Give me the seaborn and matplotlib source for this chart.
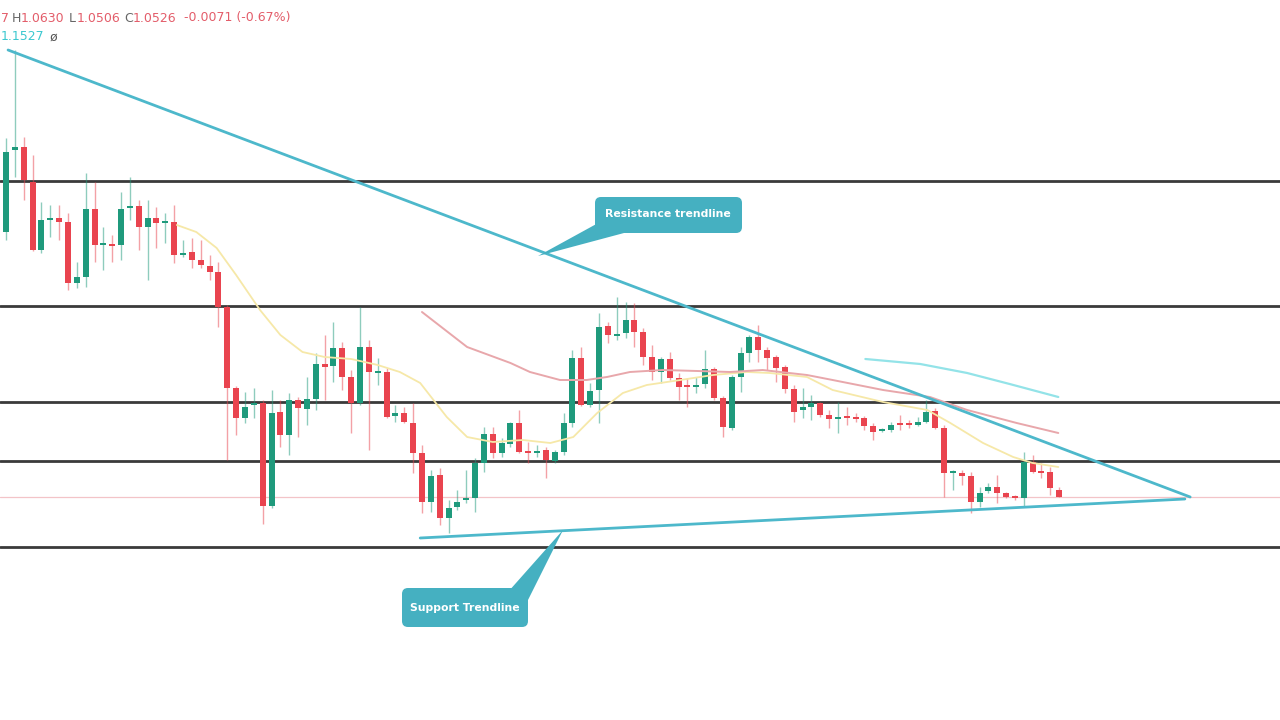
import numpy as np
import pandas as pd
import matplotlib
matplotlib.use('Agg')
import matplotlib.pyplot as plt
import seaborn as sns
from matplotlib.patches import FancyBboxPatch, Polygon

sns.set_style('white')
plt.rcParams['font.family'] = ['DejaVu Sans']

# candles (price in chart units, 120 bars)
opens = [488, 570, 573, 538, 470, 500, 502, 498, 437, 443,
         511, 475, 476, 475, 512, 514, 493, 502, 497, 498,
         465, 468, 460, 454, 448, 413, 332, 302, 315, 317,
         214, 308, 285, 320, 311, 321, 356, 354, 372, 343,
         317, 373, 347, 348, 304, 307, 297, 267, 218, 245,
         202, 213, 220, 222, 257, 286, 267, 276, 297, 268,
         267, 270, 259, 268, 297, 362, 315, 330, 394, 384,
         387, 400, 388, 363, 348, 361, 342, 334, 333, 336,
         351, 322, 292, 343, 367, 383, 370, 363, 353, 331,
         310, 313, 317, 305, 301, 303, 303, 302, 294, 289,
         290, 297, 296, 295, 298, 309, 292, 247, 247, 244,
         218, 229, 233, 227, 223, 222, 258, 248, 248, 230]
highs = [582, 670, 583, 565, 518, 515, 515, 507, 458, 547,
         538, 493, 485, 528, 543, 520, 520, 513, 507, 515,
         480, 482, 480, 465, 458, 415, 334, 328, 332, 320,
         330, 320, 327, 323, 343, 367, 385, 398, 378, 350,
         413, 380, 362, 352, 315, 313, 317, 275, 250, 252,
         220, 230, 250, 262, 293, 293, 282, 298, 310, 278,
         275, 273, 270, 307, 370, 373, 337, 407, 398, 423,
         418, 417, 392, 375, 363, 368, 347, 342, 343, 370,
         353, 324, 345, 373, 385, 395, 373, 365, 355, 335,
         332, 325, 318, 310, 318, 313, 307, 304, 297, 292,
         298, 305, 300, 303, 320, 312, 295, 250, 250, 248,
         233, 237, 245, 228, 225, 268, 265, 257, 253, 233]
lows = [480, 543, 520, 469, 467, 483, 480, 430, 432, 433,
        458, 450, 458, 460, 500, 470, 440, 472, 477, 457,
        463, 452, 452, 440, 393, 260, 285, 297, 302, 196,
        212, 273, 265, 283, 295, 310, 320, 338, 330, 287,
        315, 270, 335, 302, 298, 297, 247, 207, 208, 195,
        187, 210, 217, 208, 248, 262, 263, 273, 267, 257,
        263, 242, 257, 265, 293, 314, 313, 297, 377, 380,
        382, 373, 355, 340, 337, 340, 320, 313, 327, 332,
        320, 283, 290, 328, 358, 358, 350, 338, 327, 298,
        302, 300, 303, 292, 287, 295, 298, 290, 280, 288,
        288, 290, 292, 294, 297, 291, 223, 230, 235, 207,
        213, 227, 217, 222, 220, 213, 247, 242, 225, 223]
closes = [568, 573, 540, 470, 500, 502, 498, 437, 443, 511,
          475, 477, 474, 511, 514, 493, 502, 497, 499, 465,
          467, 460, 455, 448, 413, 332, 302, 313, 317, 214,
          307, 285, 320, 312, 321, 356, 353, 372, 343, 317,
          373, 348, 349, 303, 307, 298, 267, 218, 244, 202,
          212, 218, 222, 257, 286, 267, 277, 297, 268, 267,
          269, 260, 268, 297, 362, 315, 329, 393, 385, 386,
          400, 388, 363, 348, 361, 342, 333, 333, 335, 351,
          322, 293, 343, 367, 383, 370, 362, 352, 331, 308,
          313, 317, 305, 301, 302, 302, 301, 294, 288, 291,
          295, 295, 295, 298, 308, 292, 247, 248, 244, 218,
          227, 233, 227, 223, 222, 258, 248, 247, 232, 223]

# moving averages (bar index, value)
ma20_idx = [20.3, 22.5, 24.8, 27, 29.7, 32, 34.5, 37, 40, 43, 45.5, 47.8,
            50.8, 53.1, 56, 59.4, 62.5, 65.1, 67.8, 70.7, 73.4, 77.2, 80.9,
            84.7, 87.3, 91.5, 94.4, 100.1, 105.1, 107.7, 111.4, 114.8, 117, 119.9]
ma20 = [495, 488, 472, 445, 410, 385, 368, 363, 361, 355, 348, 337,
        303, 283, 278, 280, 277, 283, 307, 327, 335, 340, 345,
        348, 347, 343, 330, 318, 310, 297, 277, 263, 257, 253]
ma50_idx = [48.0, 53.1, 58.0, 60.2, 63.6, 66.6, 68.9, 71.5, 75.2, 79.1,
            82.8, 86.5, 91.5, 94.4, 100.1, 105.4, 109.6, 115.2, 119.9]
ma50 = [408, 373, 357, 348, 340, 340, 343, 348, 350, 349,
        348, 350, 345, 340, 330, 323, 310, 297, 287]
ma200_idx = [98.1, 104.3, 109.6, 114.4, 119.9]
ma200 = [361, 356, 347, 336, 323]

levels = [539, 414, 318, 259, 173]
last_price = 223

res_idx = [1.23, 134.8]
res_val = [670, 223]
sup_idx = [47.8, 134.2]
sup_val = [182, 221]

up_col = '#1f9a7c'
dn_col = '#e9444f'
trend_col = '#4db8cb'

fig = plt.figure(figsize=(12.8, 7.2), dpi=100)
ax = fig.add_axes([0, 0, 1, 1])
ax.set_xlim(0.32, 144.95)
ax.set_ylim(0, 720)
ax.axis('off')

# support / resistance levels
for lv in levels:
    ax.axhline(lv, color='#3a3a3a', lw=2.0, zorder=1)
ax.axhline(last_price, color='#f3c4c8', lw=0.9, zorder=1)

# candles
df = pd.DataFrame({'o': opens, 'h': highs, 'l': lows, 'c': closes})
df['x'] = np.arange(1, len(df) + 1)
cols = np.where(df['c'] >= df['o'], up_col, dn_col)
ax.vlines(df['x'], df['l'], df['h'], colors=cols, lw=1.0, alpha=0.5, zorder=2)
body = np.maximum((df['c'] - df['o']).abs(), 1.8)
ax.bar(df['x'], body, bottom=np.minimum(df['o'], df['c']), width=0.68,
       color=cols, zorder=3, linewidth=0)

# moving averages
sns.lineplot(x=ma20_idx, y=ma20, ax=ax, color='#f6e8a8', lw=1.3, zorder=4)
sns.lineplot(x=ma50_idx, y=ma50, ax=ax, color='#e8a7ab', lw=1.4, zorder=4)
sns.lineplot(x=ma200_idx, y=ma200, ax=ax, color='#93e3e8', lw=1.6, zorder=4)

# trendlines
sns.lineplot(x=res_idx, y=res_val, ax=ax, color=trend_col, lw=2.0, zorder=5)
sns.lineplot(x=sup_idx, y=sup_val, ax=ax, color=trend_col, lw=2.0, zorder=5)

# overlay in pixel space for callouts and header
ov = fig.add_axes([0, 0, 1, 1])
ov.set_xlim(0, 1280)
ov.set_ylim(720, 0)
ov.axis('off')
ov.patch.set_alpha(0)

box_col = '#45b0c1'
ov.add_patch(FancyBboxPatch((601, 203), 135, 24, boxstyle='round,pad=6',
                            fc=box_col, ec='none', zorder=6))
ov.add_patch(Polygon([(600, 222), (624, 233), (538, 256)], closed=True,
                     fc=box_col, ec='none', zorder=6))
ov.text(668, 214, 'Resistance trendline', color='white', fontsize=7.8,
        fontweight='semibold', ha='center', va='center', zorder=7)

ov.add_patch(FancyBboxPatch((408, 594), 114, 27, boxstyle='round,pad=6',
                            fc=box_col, ec='none', zorder=6))
ov.add_patch(Polygon([(508, 592), (528, 600), (563, 530)], closed=True,
                     fc=box_col, ec='none', zorder=6))
ov.text(465, 608, 'Support Trendline', color='white', fontsize=7.8,
        fontweight='semibold', ha='center', va='center', zorder=7)

red_txt = '#e35d6a'
gray_txt = '#666666'
hy = 18
ov.text(1, hy, '7', color=red_txt, fontsize=9, va='center')
ov.text(12, hy, 'H', color=gray_txt, fontsize=9, va='center')
ov.text(21, hy, '1.0630', color=red_txt, fontsize=9, va='center')
ov.text(69, hy, 'L', color=gray_txt, fontsize=9, va='center')
ov.text(77, hy, '1.0506', color=red_txt, fontsize=9, va='center')
ov.text(124, hy, 'C', color=gray_txt, fontsize=9, va='center')
ov.text(133, hy, '1.0526', color=red_txt, fontsize=9, va='center')
ov.text(184, hy, '-0.0071 (-0.67%)', color=red_txt, fontsize=9, va='center')
ov.text(1, 37, '1.1527', color='#3cc8d0', fontsize=9, va='center')
ov.text(49, 37, 'ø', color='#555555', fontsize=9, va='center')

fig.savefig('out.png', dpi=100, facecolor='white')
